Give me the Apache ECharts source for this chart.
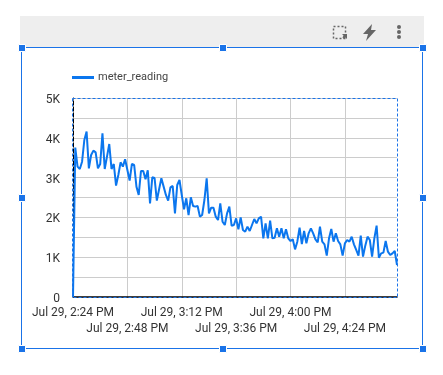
<!DOCTYPE html>
<html>
<head>
<meta charset="utf-8">
<style>
    html, body {margin: 0; padding: 0; background: #fff;}
    #chart {width: 443px; height: 375px;}
</style>
<script src="https://cdn.jsdelivr.net/npm/echarts@6/dist/echarts.min.js"></script>
</head>
<body>
<div id="chart"></div>
<script>
    const seriesName = 'meter_reading';

    // readings, one per minute starting at 2:24 PM
    const meterReading = [
        0, 3753, 3275, 3217, 3400, 3945, 4155, 3233, 3568, 3677, 3635, 3233,
        3342, 4113, 3217, 3526, 3845, 3217, 3342, 2798, 3066, 3384, 3275, 3460,
        3191, 2923, 3342, 3317, 2773, 2563, 3166, 3166, 2957, 3183, 2354, 3007,
        2990, 2421, 2706, 2982, 2773, 2563, 2421, 2756, 2790, 2102, 2815, 2940,
        2563, 2203, 2480, 2060, 2505, 2287, 2270, 2287, 2019, 2060, 2437, 2982,
        2102, 2244, 2244, 2018, 1934, 2353, 1892, 1809, 2102, 2270, 1792, 1809,
        1976, 1700, 2001, 1683, 1641, 1767, 1658, 1809, 1960, 1851, 1976, 2018,
        1474, 1851, 1474, 1918, 1474, 1490, 1725, 1516, 1725, 1474, 1700, 1474,
        1407, 1449, 1197, 1390, 1742, 1331, 1659, 1348, 1600, 1726, 1600, 1449,
        1374, 1767, 1390, 1323, 1039, 1474, 1709, 1390, 1600, 1407, 1323, 1039,
        1348, 1432, 1390, 1516, 1323, 1181, 1039, 1541, 1014, 1290, 1516, 1432,
        1014, 1474, 1793, 988, 1097, 1114, 1407, 1139, 1055, 1097, 1156, 804
    ];

    const tickLabels = {
        0: 'Jul 29, 2:24 PM',
        24: 'Jul 29, 2:48 PM',
        48: 'Jul 29, 3:12 PM',
        72: 'Jul 29, 3:36 PM',
        96: 'Jul 29, 4:00 PM',
        120: 'Jul 29, 4:24 PM'
    };

    const categories = meterReading.map((v, i) => String(i));

    const blue = '#1a73e8';
    const lineBlue = '#0b76ee';
    const fontFamily = 'Roboto';

    // selection handles of the frame
    const handleSpots = [[22, 48], [223, 48], [423, 48], [22, 198], [423, 198], [22, 349], [223, 349], [423, 349]];

    const handles = handleSpots.map(p => ({
        type: 'rect',
        z: 12,
        shape: {x: p[0] - 3.5, y: p[1] - 3.5, width: 7, height: 7},
        style: {fill: blue, stroke: '#fff', lineWidth: 1}
    }));

    const myChart = echarts.init(document.getElementById('chart'));

    const option = {
        animation: false,
        backgroundColor: '#fff',
        textStyle: {fontFamily: fontFamily},
        legend: {
            left: 67,
            top: 67,
            icon: 'rect',
            itemWidth: 22,
            itemHeight: 3,
            textStyle: {fontFamily: fontFamily, fontSize: 11, color: '#444', padding: [0, 0, 0, -1]},
            data: [seriesName]
        },
        grid: {left: 73, top: 98, width: 324, height: 199, containLabel: false},
        xAxis: {
            type: 'category',
            boundaryGap: false,
            data: categories,
            axisLine: {lineStyle: {color: '#000', width: 1.5}},
            axisTick: {show: false},
            axisLabel: {
                // all labels stay on, the formatter blanks the ones between ticks
                interval: 0,
                margin: 8,
                color: '#333',
                fontSize: 12,
                lineHeight: 16,
                fontFamily: fontFamily,
                // every other label goes on a second row
                formatter: (value) => {
                    const text = tickLabels[value] || '';
                    return Number(value) % 48 === 24 ? '\n' + text : text;
                }
            },
            splitLine: {
                show: true,
                interval: (i) => i % 24 === 0,
                lineStyle: {color: '#ccc', width: 1}
            }
        },
        yAxis: {
            type: 'value',
            min: 0,
            max: 5000,
            interval: 500,
            axisLine: {show: true, lineStyle: {color: '#000', type: 'dashed', width: 1}},
            axisTick: {show: false},
            axisLabel: {
                margin: 13,
                color: '#333',
                fontSize: 12,
                fontFamily: fontFamily,
                // nudges the labels a little below their gridline
                verticalAlign: 'top',
                lineHeight: 4,
                formatter: (v) => v === 0 ? '0' : (v % 1000 === 0 ? (v / 1000) + 'K' : '')
            },
            splitLine: {lineStyle: {color: '#ccc', width: 1}}
        },
        series: [{
            name: seriesName,
            type: 'line',
            data: meterReading,
            symbol: 'none',
            lineStyle: {color: lineBlue, width: 2},
            itemStyle: {color: lineBlue}
        }],
        graphic: [
            // toolbar strip
            {type: 'rect', z: -1, shape: {x: 20, y: 16, width: 404, height: 31}, style: {fill: '#eeeeee'}},
            // selected frame
            {type: 'rect', z: 11, shape: {x: 21.5, y: 47.5, width: 401, height: 301}, style: {fill: 'none', stroke: blue, lineWidth: 1}},
            // dashed plot outline
            {type: 'rect', z: 10, shape: {x: 72.5, y: 98.5, width: 325, height: 199}, style: {fill: 'none', stroke: blue, lineWidth: 1, lineDash: [3, 2]}},
            // toolbar icons
            {type: 'rect', z: 12, shape: {x: 333.5, y: 26.5, width: 12, height: 12}, style: {fill: 'none', stroke: '#666', lineWidth: 1.5, lineDash: [2, 2]}},
            {type: 'polygon', z: 12, shape: {points: [[342, 34], [347, 34], [347, 39], [345.5, 37.5], [344, 39], [342.5, 37.5], [343.5, 35.5]]}, style: {fill: '#666'}},
            {type: 'polygon', z: 12, shape: {points: [[372, 24], [363, 34], [368, 34], [366, 41], [376, 30], [371, 30]]}, style: {fill: '#666'}},
            {type: 'circle', z: 12, shape: {cx: 399, cy: 27, r: 2}, style: {fill: '#666'}},
            {type: 'circle', z: 12, shape: {cx: 399, cy: 32, r: 2}, style: {fill: '#666'}},
            {type: 'circle', z: 12, shape: {cx: 399, cy: 37, r: 2}, style: {fill: '#666'}}
        ].concat(handles)
    };

    myChart.setOption(option);
</script>
</body>
</html>
